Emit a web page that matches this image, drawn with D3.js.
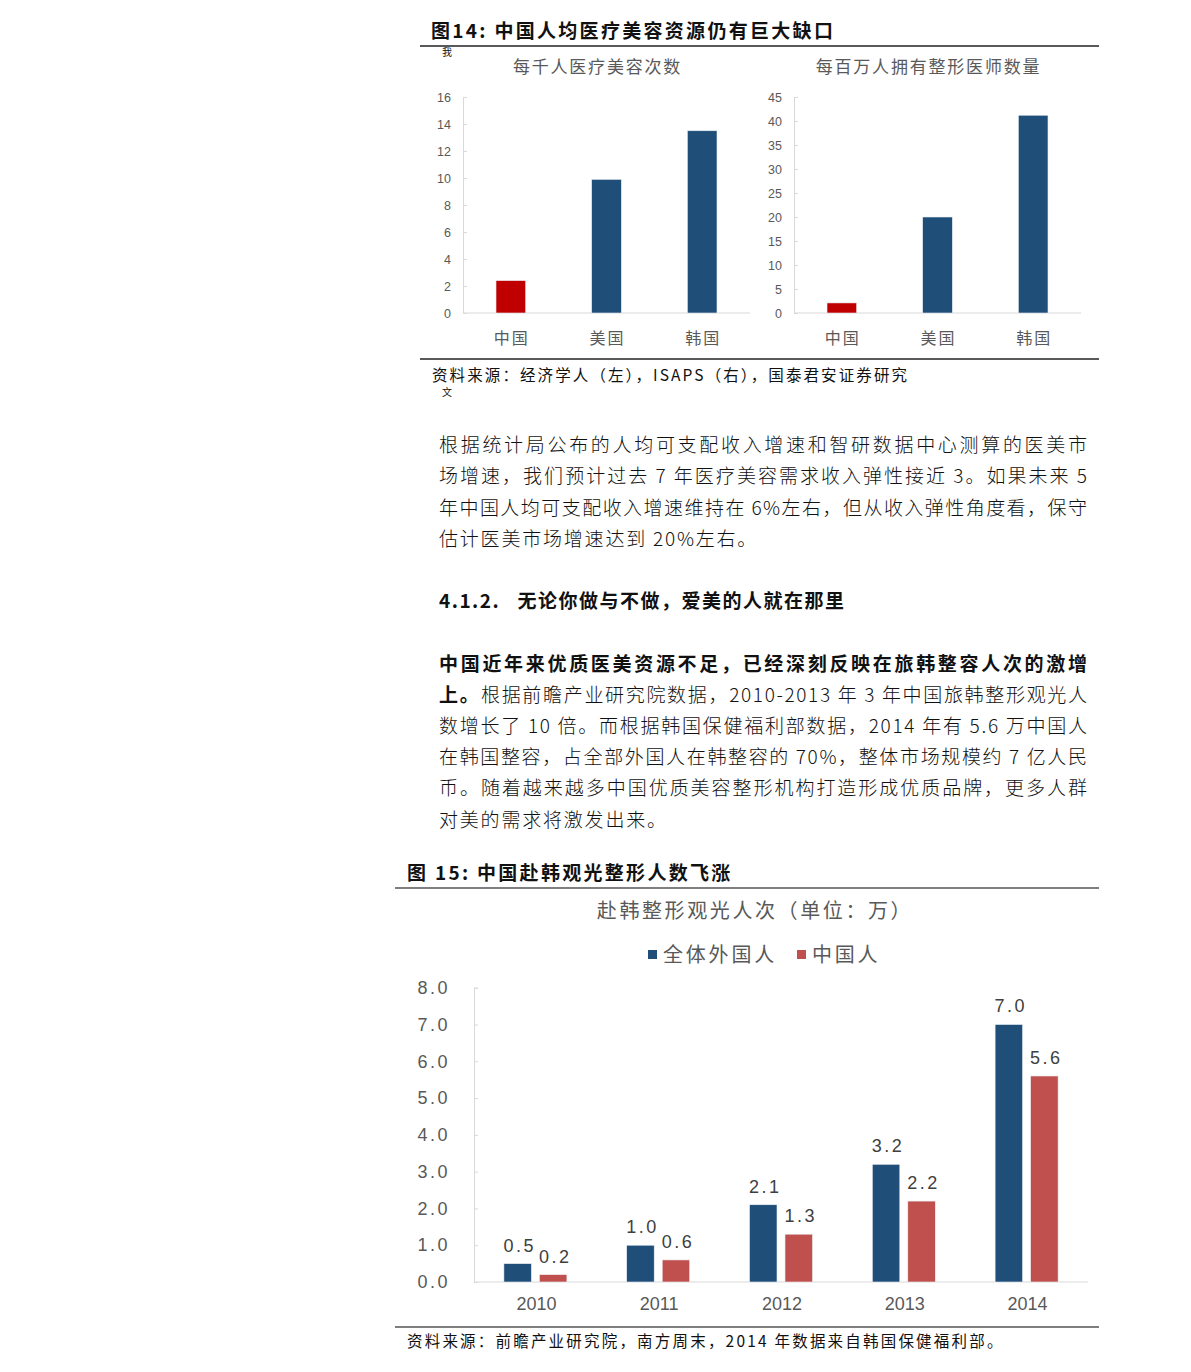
<!DOCTYPE html>
<html>
<head>
<meta charset="utf-8">
<script src="https://cdn.jsdelivr.net/npm/d3@7"></script>
<style>
  body { margin: 0; background: #fff; }
  text { font-family: "Noto Sans CJK SC", sans-serif; }
  .num { font-family: "Liberation Sans", Arial, sans-serif; }
</style>
</head>
<body>
<div id="vis"></div>
<script>
// figure 14 data
var countries = ["中国", "美国", "韩国"];
var perThousand = [2.4, 9.9, 13.5];        // 每千人医疗美容次数
var perMillion = [2.1, 20, 41.2];           // 每百万人拥有整形医师数量
var leftTicks = [0, 2, 4, 6, 8, 10, 12, 14, 16];
var rightTicks = [0, 5, 10, 15, 20, 25, 30, 35, 40, 45];

// figure 15 data
var years = ["2010", "2011", "2012", "2013", "2014"];
var seriesNames = ["全体外国人", "中国人"];
var allForeign = [0.5, 1.0, 2.1, 3.2, 7.0];
var chinese = [0.2, 0.6, 1.3, 2.2, 5.6];
var bottomTicks = [0, 1, 2, 3, 4, 5, 6, 7, 8];

// body text
var para1 = [
    "根据统计局公布的人均可支配收入增速和智研数据中心测算的医美市",
    "场增速，我们预计过去 7 年医疗美容需求收入弹性接近 3。如果未来 5",
    "年中国人均可支配收入增速维持在 6%左右，但从收入弹性角度看，保守",
    "估计医美市场增速达到 20%左右。"
];
var para2 = [
    "中国近年来优质医美资源不足，已经深刻反映在旅韩整容人次的激增",
    "根据前瞻产业研究院数据，2010-2013 年 3 年中国旅韩整形观光人",
    "数增长了 10 倍。而根据韩国保健福利部数据，2014 年有 5.6 万中国人",
    "在韩国整容，占全部外国人在韩整容的 70%，整体市场规模约 7 亿人民",
    "币。随着越来越多中国优质美容整形机构打造形成优质品牌，更多人群",
    "对美的需求将激发出来。"
];

var width = 1191, height = 1372;
var svg = d3.select("#vis").append("svg")
    .attr("width", width)
    .attr("height", height);
svg.append("rect").attr("width", width).attr("height", height).attr("fill", "#fff");

var blue = "#1f4e79", red = "#c00000", red2 = "#c0504d", grey = "#595959", axisGrey = "#d9d9d9";

// ---- figure 14 heading & rules ----
svg.append("text").attr("x", 431).attr("y", 31).attr("dy", "0.35em")
    .attr("font-size", 19).attr("font-weight", "bold").attr("fill", "#111")
    .attr("letter-spacing", 2.3)
    .text("图14:  中国人均医疗美容资源仍有巨大缺口");
svg.append("text").attr("x", 442).attr("y", 52).attr("dy", "0.35em")
    .attr("font-size", 10).attr("fill", "#111").text("我");
svg.append("line").attr("x1", 420).attr("x2", 1099).attr("y1", 46).attr("y2", 46)
    .attr("stroke", "#222").attr("stroke-width", 1.5);
svg.append("line").attr("x1", 420).attr("x2", 1099).attr("y1", 359).attr("y2", 359)
    .attr("stroke", "#222").attr("stroke-width", 1.5);
svg.append("text").attr("x", 432).attr("y", 376).attr("dy", "0.35em")
    .attr("font-size", 15.5).attr("fill", "#111").attr("letter-spacing", 2.1)
    .text("资料来源：经济学人（左），ISAPS（右），国泰君安证券研究");
svg.append("text").attr("x", 442).attr("y", 392).attr("dy", "0.35em")
    .attr("font-size", 10).attr("fill", "#111").text("文");

// small bar chart helper
function smallChart(x0, x1, title, values, ticks, ymax) {
    var x = d3.scaleBand().domain(countries).range([x0, x1])
        .paddingInner(0.69).paddingOuter(0.345);
    var y = d3.scaleLinear().domain([0, ymax]).range([313, 97]);
    var g = svg.append("g");

    g.append("text").attr("x", (x0 + x1) / 2 - 9).attr("y", 67).attr("dy", "0.35em")
        .attr("text-anchor", "middle").attr("font-size", 17).attr("fill", grey)
        .attr("letter-spacing", 1.8)
        .text(title);

    var yAxis = g.append("g").attr("transform", "translate(" + x0 + ",0)")
        .call(d3.axisLeft(y).tickValues(ticks).tickSize(-4).tickPadding(12));
    yAxis.select(".domain").attr("stroke", axisGrey);
    yAxis.selectAll(".tick line").attr("stroke", axisGrey);
    yAxis.selectAll("text").attr("class", "num").attr("font-size", 12.5).attr("fill", grey);

    g.append("line").attr("x1", x0).attr("x2", x1).attr("y1", y(0)).attr("y2", y(0))
        .attr("stroke", axisGrey);

    g.selectAll("rect.bar").data(values).enter().append("rect")
        .attr("class", "bar")
        .attr("x", function(d, i) { return x(countries[i]); })
        .attr("width", x.bandwidth())
        .attr("y", function(d) { return y(d); })
        .attr("height", function(d) { return y(0) - y(d); })
        .attr("fill", function(d, i) { return i === 0 ? red : blue; })
        .attr("stroke", "#e8eef4").attr("stroke-width", 0.6);

    g.selectAll("text.cat").data(countries).enter().append("text")
        .attr("class", "cat")
        .attr("x", function(d) { return x(d) + x.bandwidth() / 2 + 1; })
        .attr("y", 338).attr("dy", "0.35em")
        .attr("text-anchor", "middle").attr("font-size", 16).attr("fill", grey)
        .attr("letter-spacing", 2)
        .text(function(d) { return d; });
}
smallChart(463, 750, "每千人医疗美容次数", perThousand, leftTicks, 16);
smallChart(794, 1081, "每百万人拥有整形医师数量", perMillion, rightTicks, 45);

// ---- body text ----
var textLeft = 439, textRight = 1087;
function bodyLine(str, x, y, justify, bold) {
    var t = svg.append("text").attr("x", x).attr("y", y).attr("dy", "0.35em")
        .attr("font-size", 19).attr("fill", "#111")
        .attr("font-weight", bold ? "bold" : 300)
        .text(str);
    if (justify) t.attr("textLength", textRight - x).attr("lengthAdjust", "spacing");
    else t.attr("letter-spacing", 1.8);
    return t;
}
var p1y = [445, 476, 508, 539];
para1.forEach(function(s, i) { bodyLine(s, textLeft, p1y[i], i < para1.length - 1, false); });

svg.append("text").attr("x", textLeft).attr("y", 601).attr("dy", "0.35em")
    .attr("font-size", 19).attr("font-weight", "bold").attr("fill", "#111")
    .attr("letter-spacing", 1.5)
    .text("4.1.2.   无论你做与不做，爱美的人就在那里")
    .style("white-space", "pre");

var p2y = [664, 695, 726, 757, 788, 820];
para2.forEach(function(s, i) {
    if (i === 0) bodyLine(s, textLeft, p2y[i], true, true);
    else if (i === 1) {
        bodyLine("上。", textLeft, p2y[i], false, true);
        bodyLine(s, textLeft + 42, p2y[i], true, false);
    } else bodyLine(s, textLeft, p2y[i], i < para2.length - 1, false);
});

// ---- figure 15 ----
svg.append("text").attr("x", 407).attr("y", 873).attr("dy", "0.35em")
    .attr("font-size", 19).attr("font-weight", "bold").attr("fill", "#111")
    .attr("letter-spacing", 2.3)
    .text("图 15:  中国赴韩观光整形人数飞涨");
svg.append("line").attr("x1", 395).attr("x2", 1099).attr("y1", 888).attr("y2", 888)
    .attr("stroke", "#555").attr("stroke-width", 1.5);
svg.append("line").attr("x1", 395).attr("x2", 1099).attr("y1", 1327).attr("y2", 1327)
    .attr("stroke", "#555").attr("stroke-width", 1.5);
svg.append("text").attr("x", 407).attr("y", 1342).attr("dy", "0.35em")
    .attr("font-size", 15.5).attr("fill", "#111").attr("letter-spacing", 2.2)
    .text("资料来源：前瞻产业研究院，南方周末，2014 年数据来自韩国保健福利部。");

svg.append("text").attr("x", 755).attr("y", 911).attr("dy", "0.35em")
    .attr("text-anchor", "middle").attr("font-size", 20).attr("fill", grey)
    .attr("letter-spacing", 2.6)
    .text("赴韩整形观光人次（单位：万）");

// legend
var legendX = [648, 797];
var colors = [blue, red2];
seriesNames.forEach(function(name, i) {
    svg.append("rect").attr("x", legendX[i]).attr("y", 950).attr("width", 9).attr("height", 9)
        .attr("fill", colors[i]);
    svg.append("text").attr("x", legendX[i] + 15).attr("y", 955).attr("dy", "0.35em")
        .attr("font-size", 20).attr("fill", grey).attr("letter-spacing", 2.8).text(name);
});

var x0 = d3.scaleBand().domain(years).range([474, 1088]);
var x1 = d3.scaleBand().domain(seriesNames).range([0, x0.bandwidth()])
    .paddingInner(0.225).paddingOuter(0.842);
var y = d3.scaleLinear().domain([0, 8]).range([1282, 987.7]);

var yAxis = svg.append("g").attr("transform", "translate(474,0)")
    .call(d3.axisLeft(y).tickValues(bottomTicks).tickSize(-4).tickPadding(24)
        .tickFormat(d3.format(".1f")));
yAxis.select(".domain").attr("stroke", axisGrey);
yAxis.selectAll(".tick line").attr("stroke", axisGrey);
yAxis.selectAll("text").attr("class", "num").attr("font-size", 18).attr("fill", grey)
    .attr("letter-spacing", 2.5);

svg.append("line").attr("x1", 474).attr("x2", 1088).attr("y1", y(0)).attr("y2", y(0))
    .attr("stroke", axisGrey);

var rows = years.map(function(yr, i) {
    return { year: yr, vals: [allForeign[i], chinese[i]] };
});
var groups = svg.selectAll("g.year").data(rows).enter().append("g")
    .attr("class", "year")
    .attr("transform", function(d) { return "translate(" + x0(d.year) + ",0)"; });

groups.selectAll("rect").data(function(d) { return d.vals; }).enter().append("rect")
    .attr("x", function(d, i) { return x1(seriesNames[i]); })
    .attr("width", x1.bandwidth())
    .attr("y", function(d) { return y(d); })
    .attr("height", function(d) { return y(0) - y(d); })
    .attr("fill", function(d, i) { return colors[i]; })
    .attr("stroke", "#eef2f6").attr("stroke-width", 0.6);

groups.selectAll("text.val").data(function(d) { return d.vals; }).enter().append("text")
    .attr("class", "val num")
    .attr("x", function(d, i) { return x1(seriesNames[i]) + x1.bandwidth() / 2 + 2; })
    .attr("y", function(d) { return y(d) - 12; })
    .attr("text-anchor", "middle").attr("font-size", 18).attr("fill", "#404040")
    .attr("letter-spacing", 2.5)
    .text(function(d) { return d3.format(".1f")(d); });

svg.selectAll("text.yr").data(years).enter().append("text")
    .attr("class", "yr num")
    .attr("x", function(d) { return x0(d) + x0.bandwidth() / 2 + 1; })
    .attr("y", 1304).attr("dy", "0.35em")
    .attr("text-anchor", "middle").attr("font-size", 18).attr("fill", grey)
    .text(function(d) { return d; });
</script>
</body>
</html>
